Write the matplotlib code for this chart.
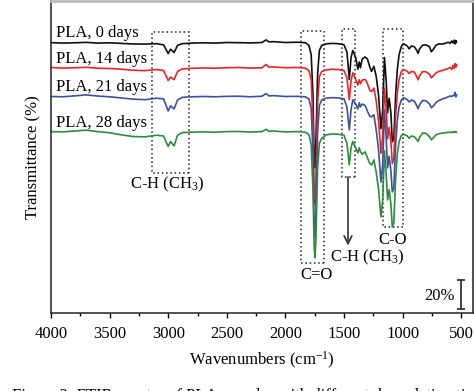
import matplotlib
matplotlib.use('Agg')
import matplotlib.pyplot as plt
from matplotlib.patches import Rectangle

plt.rcParams['font.family'] = ['Liberation Serif', 'DejaVu Serif']
plt.rcParams['mathtext.fontset'] = 'custom'
plt.rcParams['mathtext.rm'] = 'Liberation Serif'
plt.rcParams['mathtext.it'] = 'Liberation Serif:italic'

# wavenumber grid (cm-1), shared by all spectra
wavenumber = [4000, 3900, 3800, 3700, 3600, 3500, 3400, 3300, 3200, 3100,
              3040, 3000, 2980, 2950, 2920, 2880, 2800, 2700, 2600, 2500,
              2400, 2300, 2200, 2165, 2140, 2100, 2000, 1900, 1830, 1800,
              1780, 1765, 1755, 1748, 1740, 1725, 1710, 1690, 1650, 1600,
              1550, 1500, 1475, 1455, 1440, 1425, 1400, 1382, 1370, 1360,
              1345, 1320, 1300, 1280, 1265, 1245, 1225, 1205, 1185, 1170,
              1155, 1140, 1128, 1115, 1100, 1088, 1075, 1060, 1045, 1030,
              1010, 990, 960, 945, 925, 900, 880, 868, 855, 830,
              800, 770, 755, 740, 715, 690, 660, 630, 610, 595,
              580, 570, 560, 552, 545, 540]

# transmittance (%), stacked spectra
pla_0 = [186.3, 186.0, 186.2, 186.5, 186.0, 186.2, 185.8, 185.4, 185.3, 185.6,
         184.8, 178.8, 181.8, 179.5, 184.5, 185.6, 186.0, 186.2, 186.0, 186.4,
         186.3, 186.1, 186.4, 188.2, 186.8, 187.0, 186.4, 186.6, 186.3, 184.5,
         178.0, 150.0, 108.0, 100.0, 118.0, 165.0, 181.0, 184.5, 185.5, 185.8,
         185.6, 184.8, 180.0, 161.0, 176.0, 181.0, 176.0, 168.0, 173.0, 169.0,
         175.0, 176.5, 175.0, 169.5, 166.5, 170.0, 163.0, 150.0, 127.0, 140.0,
         176.0, 160.0, 138.0, 148.0, 138.0, 118.0, 120.0, 150.0, 168.0, 178.0,
         184.0, 185.5, 184.0, 182.0, 184.0, 183.5, 181.0, 179.0, 182.0, 184.5,
         184.8, 183.5, 180.0, 181.5, 184.5, 185.5, 185.3, 186.0, 186.6, 185.8,
         187.5, 186.0, 188.0, 185.5, 187.8, 186.5]

pla_14 = [169.2, 168.8, 169.0, 169.3, 168.7, 168.5, 168.0, 167.3, 167.0, 167.8,
          167.2, 160.2, 162.6, 160.8, 166.5, 168.2, 168.6, 168.9, 168.7, 169.0,
          169.2, 168.8, 169.0, 171.3, 169.4, 169.6, 169.0, 169.2, 168.8, 167.0,
          161.0, 132.0, 85.0, 75.0, 92.0, 145.0, 163.0, 166.4, 167.6, 168.0,
          167.8, 167.0, 162.0, 147.0, 160.0, 165.5, 161.0, 157.0, 160.7, 158.0,
          160.5, 161.0, 158.0, 153.5, 152.6, 155.0, 146.0, 132.0, 110.0, 122.0,
          155.0, 140.0, 120.0, 128.0, 118.0, 103.0, 106.0, 135.0, 152.0, 161.0,
          166.5, 167.8, 166.5, 165.0, 166.5, 166.0, 163.0, 160.7, 163.5, 166.4,
          166.2, 164.5, 162.0, 163.2, 165.5, 166.5, 167.2, 168.0, 168.5, 169.2,
          167.8, 170.6, 168.6, 171.8, 169.5, 171.2]

pla_21 = [149.2, 149.0, 149.6, 150.3, 149.5, 149.0, 148.2, 147.4, 147.0, 148.0,
          147.6, 139.2, 142.8, 140.6, 146.8, 148.6, 149.0, 149.2, 149.0, 149.3,
          149.4, 149.0, 149.4, 151.2, 149.6, 149.8, 149.2, 149.3, 149.0, 147.5,
          141.0, 110.0, 62.0, 52.0, 70.0, 125.0, 143.0, 146.9, 148.1, 148.4,
          148.2, 147.6, 142.0, 126.2, 140.0, 147.0, 144.0, 140.5, 144.8, 142.0,
          144.0, 143.0, 139.0, 135.5, 135.2, 136.6, 126.0, 112.0, 90.3, 102.0,
          140.0, 120.0, 100.0, 108.0, 98.0, 83.4, 86.0, 115.0, 133.0, 142.0,
          147.0, 148.3, 147.0, 145.5, 146.8, 146.0, 143.0, 140.7, 143.5, 146.4,
          146.2, 144.0, 141.4, 142.5, 145.0, 146.5, 147.5, 148.3, 149.0, 149.6,
          149.2, 150.0, 149.8, 152.0, 148.8, 150.4]

pla_28 = [125.0, 124.8, 125.4, 126.0, 125.0, 124.2, 122.8, 121.6, 121.4, 122.5,
          122.0, 114.7, 118.2, 115.2, 122.5, 124.3, 124.6, 124.8, 124.6, 125.0,
          125.1, 124.7, 125.0, 126.6, 125.2, 125.4, 124.8, 125.0, 124.6, 123.0,
          116.0, 85.0, 46.0, 37.9, 50.0, 100.0, 117.0, 120.5, 122.8, 123.4,
          123.2, 122.5, 117.0, 102.1, 114.0, 118.2, 113.8, 110.3, 113.8, 111.2,
          109.5, 111.0, 107.0, 103.0, 102.0, 105.5, 97.0, 85.0, 66.2, 78.0,
          112.0, 95.0, 78.0, 85.0, 75.0, 59.3, 62.0, 92.0, 110.0, 118.0,
          122.5, 123.2, 122.0, 120.5, 122.0, 121.5, 119.5, 118.2, 121.0, 124.0,
          123.8, 121.5, 119.3, 120.5, 122.8, 123.6, 124.0, 124.2, 124.6, 124.4,
          124.8, 124.2, 125.0, 124.6, 124.9, 124.6]

labels = ['PLA, 0 days', 'PLA, 14 days', 'PLA, 21 days', 'PLA, 28 days']
label_y = [193.1, 175.2, 155.9, 131.0]
colors = ['#111111', '#e3262b', '#41509c', '#2f8a3f']

fs = 12

fig = plt.figure(figsize=(4.74, 3.91), dpi=100)
ax = fig.add_axes([0.1076, 0.1995, 0.8904, 0.7979])

for y, c in zip([pla_0, pla_14, pla_21, pla_28], colors):
    ax.plot(wavenumber, y, color=c, lw=1.2)

for lab, ly in zip(labels, label_y):
    ax.text(3957, ly, lab, fontsize=fs, va='center', ha='left')

# dotted boxes around the bands
dot = dict(fill=False, ec='#222222', lw=1.1, ls=(0, (1, 1.8)))
boxes = [(3138, 2823, 96.6, 193.8), (1867, 1671, 34.5, 194.5),
         (1517, 1406, 93.8, 195.9), (1167, 997, 59.3, 195.9)]
for x0, x1, y0, y1 in boxes:
    ax.add_patch(Rectangle((x1, y0), x0 - x1, y1 - y0, **dot))

ax.text(3010, 88.3, 'C-H (CH$_3$)', fontsize=fs, ha='center', va='center')
ax.text(1735, 26.2, 'C=O', fontsize=fs, ha='center', va='center')
ax.text(1082, 50.0, 'C-O', fontsize=fs, ha='center', va='center')
ax.text(1304, 38.6, 'C-H (CH$_3$)', fontsize=fs, ha='center', va='center')
ax.annotate('', xy=(1466, 46.5), xytext=(1466, 93.8),
            arrowprops=dict(arrowstyle='->', color='#333333', lw=1.2,
                            mutation_scale=14, shrinkA=0, shrinkB=0))

# 20% scale bar
ax.errorbar([502], [12.8], yerr=[10], color='#333333', lw=1.3, capsize=3,
            capthick=1.3)
ax.text(553, 11.5, '20%', fontsize=fs, ha='right', va='center')

ax.set_xlim(4000, 399)
ax.set_ylim(0, 215)
ax.set_xticks([4000, 3500, 3000, 2500, 2000, 1500, 1000, 500])
ax.set_xticks(range(3750, 400, -500), minor=True)
ax.tick_params(axis='x', direction='out', length=3.6, width=1, labelsize=fs, pad=5.5)
ax.tick_params(axis='x', which='minor', direction='out', length=2.2, width=1)
ax.set_yticks([])
ax.set_xlabel('Wavenumbers (cm$^{-1}$)', fontsize=fs, labelpad=6)
ax.set_ylabel('Transmittance (%)', fontsize=fs)
ax.yaxis.set_label_coords(-0.022, 0.5)
for s in ['left', 'bottom', 'right']:
    ax.spines[s].set_color('#222222')
    ax.spines[s].set_linewidth(1.1)
ax.spines['top'].set_color('#bbbbbb')
ax.spines['top'].set_linewidth(2)

fig.text(12 / 474, -0.022, 'Figure 2: FTIR spectra of PLA samples with different degradation times.',
         fontsize=fs, ha='left', va='baseline')

fig.savefig('out.png', dpi=100)
